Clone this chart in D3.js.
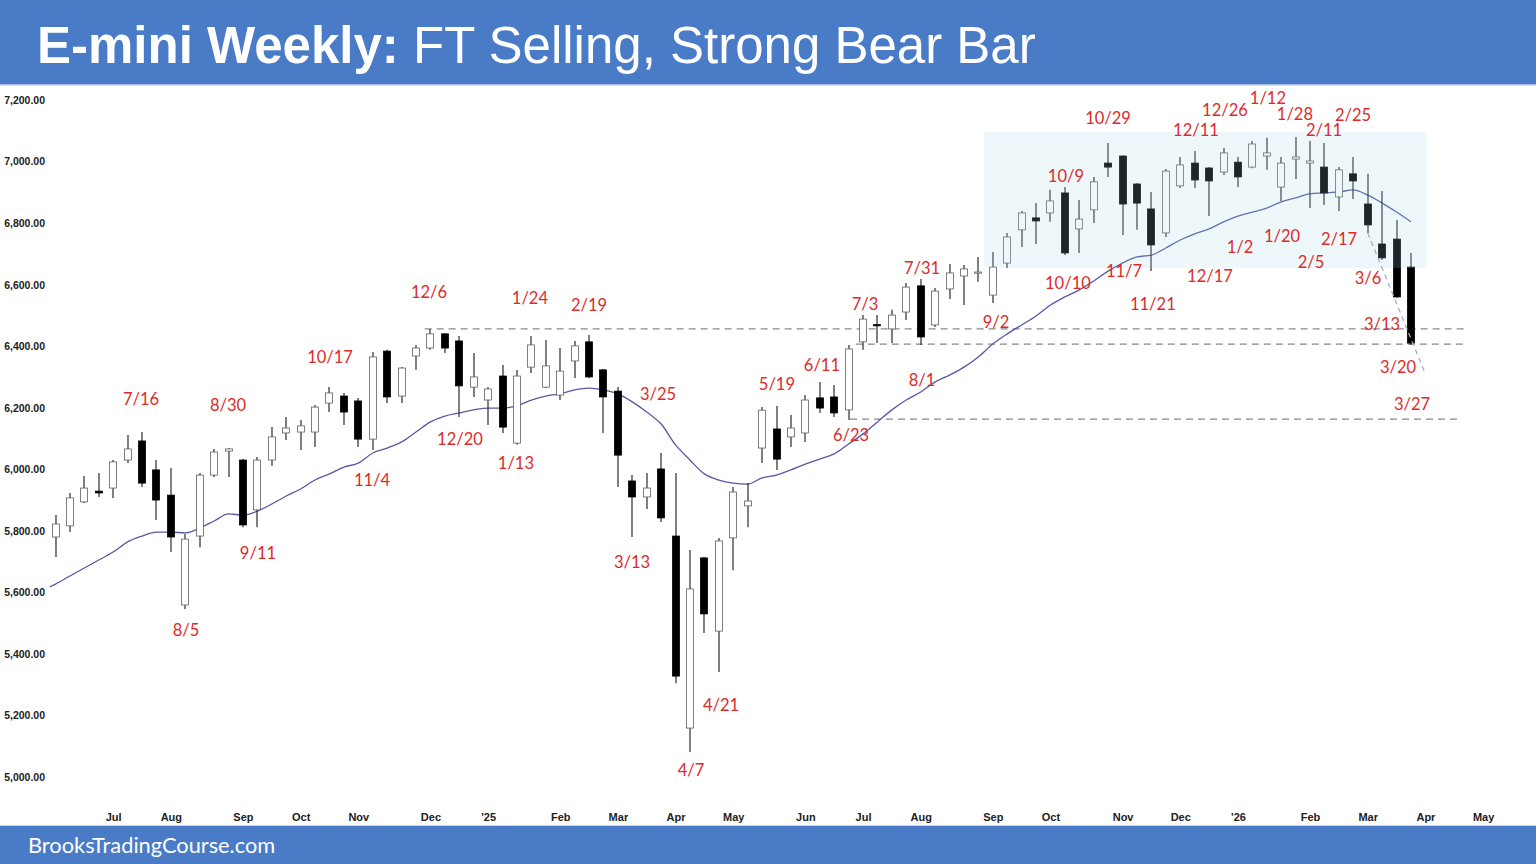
<!DOCTYPE html>
<html>
<head>
<meta charset="utf-8">
<style>
body { margin: 0; background: #fff; }
svg { display: block; }
.axis text { font-family: "Liberation Sans", Arial, sans-serif; font-weight: bold; fill: #222; }
.axis--x text { font-family: "Liberation Sans Narrow", "Liberation Sans", Arial, sans-serif; font-size: 11px; }
.axis--y text { font-size: 10.5px; }
.note { font-family: Lato, "Liberation Sans", sans-serif; font-size: 16.5px; fill: #dc2b2b; }
</style>
</head>
<body>
<svg width="1536" height="864"></svg>
<script src="https://d3js.org/d3.v7.min.js"></script>
<script>
// weekly bars, first week starts Mon 2024-06-03
var firstWeek = Date.UTC(2024, 5, 3);

// [open, high, low, close]
var ohlc = [
  [5780, 5851, 5715, 5822], [5816, 5923, 5796, 5907], [5894, 5978, 5890, 5939], [5929, 5988, 5910, 5923],
  [5939, 6030, 5907, 6024], [6030, 6111, 6020, 6066], [6092, 6121, 5942, 5955], [5998, 6030, 5835, 5900],
  [5916, 6004, 5731, 5780], [5559, 5790, 5546, 5773], [5783, 5988, 5747, 5981], [5981, 6066, 5975, 6056],
  [6059, 6069, 5975, 6066], [6030, 6033, 5812, 5819], [5868, 6040, 5812, 6030], [6030, 6137, 6011, 6105],
  [6118, 6170, 6095, 6134], [6121, 6160, 6063, 6141], [6121, 6209, 6072, 6202], [6215, 6267, 6186, 6248],
  [6238, 6248, 6144, 6186], [6222, 6232, 6072, 6098], [6098, 6381, 6063, 6365], [6384, 6388, 6215, 6235],
  [6238, 6332, 6215, 6329], [6368, 6404, 6323, 6394], [6394, 6456, 6388, 6440], [6440, 6443, 6378, 6394],
  [6417, 6433, 6170, 6271], [6267, 6378, 6235, 6300], [6225, 6267, 6144, 6261], [6303, 6339, 6118, 6137],
  [6085, 6323, 6080, 6303], [6332, 6433, 6313, 6404], [6267, 6420, 6264, 6336], [6241, 6394, 6225, 6319],
  [6352, 6417, 6297, 6401], [6414, 6436, 6297, 6300], [6323, 6326, 6118, 6235], [6254, 6267, 5942, 6046],
  [5962, 5981, 5780, 5910], [5910, 5988, 5871, 5939], [6001, 6053, 5829, 5842], [5783, 5988, 5305, 5328],
  [5159, 5738, 5081, 5611], [5712, 5715, 5468, 5530], [5474, 5777, 5341, 5767], [5777, 5942, 5672, 5926],
  [5881, 5955, 5812, 5897], [6069, 6202, 6020, 6192], [6131, 6206, 5998, 6033], [6105, 6176, 6072, 6134],
  [6118, 6241, 6089, 6225], [6232, 6284, 6183, 6199], [6235, 6274, 6170, 6183], [6193, 6404, 6160, 6391],
  [6414, 6501, 6388, 6488], [6470, 6501, 6410, 6467], [6456, 6518, 6410, 6501], [6511, 6605, 6485, 6592],
  [6596, 6618, 6404, 6430], [6469, 6589, 6462, 6579], [6586, 6667, 6553, 6638], [6628, 6664, 6534, 6651],
  [6638, 6690, 6609, 6641], [6566, 6706, 6540, 6657], [6670, 6768, 6654, 6755], [6778, 6839, 6722, 6833],
  [6817, 6865, 6732, 6807], [6833, 6908, 6804, 6872], [6898, 6917, 6696, 6703], [6781, 6875, 6703, 6813],
  [6843, 6950, 6800, 6934], [6995, 7060, 6950, 6982], [7018, 7020, 6761, 6862], [6927, 6930, 6778, 6865],
  [6846, 6901, 6644, 6729], [6768, 6976, 6755, 6969], [6921, 7015, 6914, 6989], [6995, 7034, 6914, 6940],
  [6979, 6982, 6823, 6937], [6966, 7044, 6956, 7028], [6998, 7015, 6917, 6950], [6982, 7067, 6978, 7057],
  [7018, 7077, 6973, 7028], [6917, 7015, 6872, 6995], [7008, 7080, 6943, 7015], [6995, 7067, 6849, 7002],
  [6982, 7060, 6859, 6898], [6885, 6982, 6839, 6973], [6960, 7015, 6878, 6937], [6862, 6960, 6768, 6794],
  [6732, 6904, 6680, 6687], [6748, 6810, 6557, 6560], [6657, 6703, 6404, 6410]
];

// 20-week EMA, starting one week before the first bar
var ema20 = [
  5604, 5627, 5653, 5679, 5705, 5731, 5764, 5783, 5796, 5796,
  5793, 5809, 5832, 5855, 5851, 5864, 5887, 5913, 5936, 5965,
  5985, 6007, 6020, 6053, 6069, 6089, 6121, 6154, 6173, 6183,
  6193, 6199, 6199, 6206, 6225, 6238, 6245, 6258, 6264, 6258,
  6245, 6219, 6186, 6147, 6079, 6030, 5985, 5965, 5955, 5952,
  5972, 5981, 5998, 6017, 6033, 6050, 6082, 6115, 6154, 6193,
  6225, 6251, 6284, 6306, 6332, 6365, 6407, 6440, 6469, 6498,
  6534, 6560, 6583, 6612, 6644, 6670, 6690, 6696, 6719, 6745,
  6765, 6781, 6804, 6823, 6836, 6849, 6869, 6882, 6895, 6898,
  6901, 6908, 6891, 6865, 6836, 6804
];

var priceTicks = [5000, 5200, 5400, 5600, 5800, 6000, 6200, 6400, 6600, 6800, 7000, 7200];

// annotations: [text, week index, price]
var notes = [
  ["7/16", 5.93, 6228], ["8/30", 11.96, 6209], ["8/5", 9.05, 5478], ["9/11", 14.04, 5728],
  ["10/17", 19.04, 6365], ["11/4", 21.95, 5965], ["12/6", 25.9, 6576], ["12/20", 28.05, 6098],
  ["1/24", 32.9, 6557], ["2/19", 37.0, 6534], ["1/13", 31.93, 6020], ["3/25", 41.78, 6245],
  ["3/13", 39.98, 5699], ["4/21", 46.15, 5234], ["4/7", 44.07, 5023], ["5/19", 50.03, 6277],
  ["6/11", 53.15, 6339], ["6/23", 55.17, 6111], ["7/3", 56.14, 6537], ["7/31", 60.09, 6654],
  ["8/1", 60.09, 6290], ["9/2", 65.22, 6479], ["10/9", 70.07, 6953], ["10/10", 70.21, 6605],
  ["10/29", 72.99, 7142], ["11/7", 74.1, 6644], ["11/21", 76.1, 6537], ["12/11", 79.09, 7102],
  ["12/26", 81.1, 7168], ["1/12", 84.08, 7206], ["1/28", 85.95, 7154], ["2/11", 87.97, 7102],
  ["2/25", 89.98, 7151], ["12/17", 80.06, 6628], ["1/2", 82.14, 6722], ["1/20", 85.06, 6758],
  ["2/5", 87.07, 6674], ["2/17", 89.01, 6748], ["3/6", 91.02, 6622], ["3/13", 91.99, 6472],
  ["3/20", 93.1, 6332], ["3/27", 94.07, 6212]
];

// dashed support/resistance: [price, from week, to week]
var levels = [[6456, 25.6, 97.8], [6407, 55.5, 97.8], [6163, 55.1, 97.3]];
// trading range box: [from week, to week, top, bottom]
var rangeBox = [64.4, 95.1, 7096, 6654];
// bear trend line: [week, price] pairs
var trendLine = [[91.0, 6768], [94.97, 6313]];

var svg = d3.select("svg"),
    width = +svg.attr("width"),
    height = +svg.attr("height");

function wk(i) { return new Date(firstWeek + i * 7 * 864e5); }

var x = d3.scaleUtc()
    .domain([wk(0), wk(99)])
    .range([55.5, 55.5 + 99 * 14.42]);

var y = d3.scaleLinear()
    .domain([5000, 7200])
    .range([777, 100]);

// header / footer bars
svg.append("rect").attr("width", width).attr("height", 84).attr("fill", "#4a7bc7");
svg.append("rect").attr("y", 84).attr("width", width).attr("height", 1.5).attr("fill", "#a9bfe3");
svg.append("text")
    .attr("x", 37).attr("y", 63)
    .attr("fill", "#fff")
    .attr("font-family", "'Liberation Sans', Arial, sans-serif")
    .attr("font-size", 51)
    .call(function(t) {
      t.append("tspan").attr("font-weight", "bold").text("E-mini Weekly:");
      t.append("tspan").text(" FT Selling, Strong Bear Bar");
    });

svg.append("rect").attr("y", 825).attr("width", width).attr("height", 1).attr("fill", "#c9d3e3");
svg.append("rect").attr("y", 826).attr("width", width).attr("height", height - 826).attr("fill", "#4a7bc7");
svg.append("text")
    .attr("x", 28).attr("y", 853)
    .attr("fill", "#fff")
    .attr("font-family", "Lato, 'Open Sans', sans-serif")
    .attr("font-size", 21.8)
    .text("BrooksTradingCourse.com");

// axes
svg.append("g")
    .attr("class", "axis axis--y")
    .attr("transform", "translate(45,0)")
    .call(d3.axisLeft(y).tickValues(priceTicks).tickSize(0).tickPadding(0).tickFormat(d3.format(",.2f")))
    .call(function(g) { g.select(".domain").remove(); });

var months = d3.utcMonths(Date.UTC(2024, 6, 1), Date.UTC(2026, 5, 1));
var monthWeeks = months.map(function(m) { return d3.utcMonday.floor(d3.utcDay.offset(m, 2)); });
svg.append("g")
    .attr("class", "axis axis--x")
    .attr("transform", "translate(0,813)")
    .call(d3.axisBottom(x).tickValues(monthWeeks).tickSize(0).tickPadding(0)
      .tickFormat(function(d, i) {
        var m = months[i];
        return m.getUTCMonth() === 0 ? "'" + d3.utcFormat("%y")(m) : d3.utcFormat("%b")(m);
      }))
    .call(function(g) { g.select(".domain").remove(); });

// dashed levels
svg.append("g")
    .selectAll("line")
    .data(levels)
    .enter().append("line")
    .attr("x1", function(d) { return x(wk(d[1])); })
    .attr("x2", function(d) { return x(wk(d[2])); })
    .attr("y1", function(d) { return y(d[0]); })
    .attr("y2", function(d) { return y(d[0]); })
    .attr("stroke", "#8a8a8a")
    .attr("stroke-width", 1.3)
    .attr("stroke-dasharray", "7,5");

// EMA
svg.append("clipPath").attr("id", "plot")
  .append("rect").attr("x", 50).attr("y", 90).attr("width", 1440).attr("height", 700);

svg.append("path")
    .datum(ema20)
    .attr("clip-path", "url(#plot)")
    .attr("fill", "none")
    .attr("stroke", "#5858a4")
    .attr("stroke-width", 1.3)
    .attr("d", d3.line()
      .curve(d3.curveMonotoneX)
      .x(function(d, i) { return x(wk(i - 1)); })
      .y(function(d) { return y(d); }));

// candles
var bar = svg.append("g")
    .selectAll("g")
    .data(ohlc)
    .enter().append("g")
    .attr("transform", function(d, i) { return "translate(" + Math.round(x(wk(i))) + ",0)"; });

bar.append("line")
    .attr("y1", function(d) { return y(d[1]); })
    .attr("y2", function(d) { return y(d[2]); })
    .attr("stroke", "#2a2a2a")
    .attr("stroke-width", 1.2);

bar.append("rect")
    .attr("x", -3.5)
    .attr("width", 7)
    .attr("y", function(d) { return y(Math.max(d[0], d[3])); })
    .attr("height", function(d) { return Math.max(1.2, Math.abs(y(d[0]) - y(d[3]))); })
    .attr("fill", function(d) { return d[3] >= d[0] ? "#fff" : "#000"; })
    .attr("stroke", function(d) { return d[3] >= d[0] ? "#606060" : "#000"; })
    .attr("stroke-width", 0.8);

// trading range overlay
svg.append("rect")
    .attr("x", x(wk(rangeBox[0])))
    .attr("width", x(wk(rangeBox[1])) - x(wk(rangeBox[0])))
    .attr("y", y(rangeBox[2]))
    .attr("height", y(rangeBox[3]) - y(rangeBox[2]))
    .attr("fill", "#9fd6e8")
    .attr("fill-opacity", 0.18);

// trend line
svg.append("path")
    .datum(trendLine)
    .attr("fill", "none")
    .attr("stroke", "#9fb2c4")
    .attr("stroke-width", 1.3)
    .attr("stroke-dasharray", "5,4")
    .attr("d", d3.line()
      .x(function(d) { return x(wk(d[0])); })
      .y(function(d) { return y(d[1]); }));

// labels
svg.append("g")
    .selectAll("text")
    .data(notes)
    .enter().append("text")
    .attr("class", "note")
    .attr("x", function(d) { return x(wk(d[1])); })
    .attr("y", function(d) { return y(d[2]); })
    .attr("text-anchor", "middle")
    .attr("dy", "0.36em")
    .text(function(d) { return d[0]; });
</script>
</body>
</html>
